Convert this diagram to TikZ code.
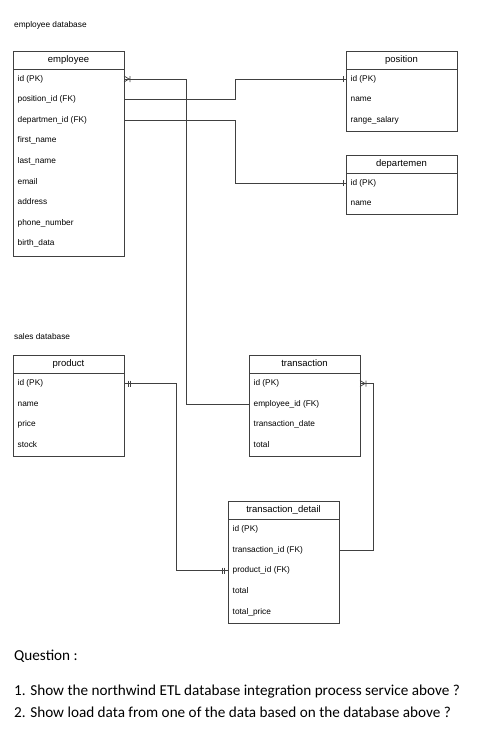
\documentclass[tikz,border=0pt]{standalone}
\usepackage{fontspec}
\setmainfont{Liberation Sans}
\newfontfamily\qfont{Carlito}
\usetikzlibrary{positioning}

\tikzset{
  head/.style={draw=black!75, line width=0.8pt, outer sep=0pt, inner sep=0pt,
    minimum width=111pt, minimum height=18pt, text height=6.8pt, text depth=2pt,
    font=\fontsize{9.5}{11}\selectfont},
  body/.style={draw=black!75, line width=0.8pt, outer sep=0pt, inner sep=0pt,
    minimum width=111pt, minimum height=#1},
  field/.style={anchor=west, inner sep=0pt, text height=6pt, text depth=1.7pt,
    font=\fontsize{8.3}{10}\selectfont},
  question/.style={anchor=west, inner sep=0pt, font=\qfont\fontsize{15.2}{18}\selectfont},
  link/.style={draw=black!75, line width=0.7pt},
  crow/.pic={\draw[link] (0,-3) -- (5,0) -- (0,3) (6,-3) -- (6,3);},
  bar/.pic={\draw[link] (3,-3) -- (3,3);},
  twobar/.pic={\draw[link] (4,-3) -- (4,3) (6,-3) -- (6,3);}
}

\begin{document}
\begin{tikzpicture}[x=1pt, y=-1pt]
        \useasboundingbox (0,0) rectangle (481,742);

        % Employee database
        \node[field] (empdb) at (14,25) {employee database};

        % Table employee
        \node[head] (emp) at (68.5,60) {employee};
        \node[body=187pt, below=0pt of emp] (empbody) {};
        \foreach \f [count=\i] in {id (PK), position\_id (FK), departmen\_id (FK),
            first\_name, last\_name, email, address, phone\_number, birth\_data}
          \node[field] (emp-\i) at ([shift={(4.5,{10+(\i-1)*20.6})}]empbody.north west) {\f};

        % Table position
        \node[head] (pos) at (401.5,60) {position};
        \node[body=62pt, below=0pt of pos] (posbody) {};
        \foreach \f [count=\i] in {id (PK), name, range\_salary}
          \node[field] (pos-\i) at ([shift={(4.5,{10+(\i-1)*20.6})}]posbody.north west) {\f};

        % Table departemen
        \node[head] (dep) at (401.5,164) {departemen};
        \node[body=41pt, below=0pt of dep] (depbody) {};
        \foreach \f [count=\i] in {id (PK), name}
          \node[field] (dep-\i) at ([shift={(4.5,{10+(\i-1)*20.6})}]depbody.north west) {\f};

        % Sales database
        \node[field] (salesdb) at (14,337) {sales database};

        % Table product
        \node[head] (prd) at (68.5,364.5) {product};
        \node[body=83pt, below=0pt of prd] (prdbody) {};
        \foreach \f [count=\i] in {id (PK), name, price, stock}
          \node[field] (prd-\i) at ([shift={(4.5,{10+(\i-1)*20.6})}]prdbody.north west) {\f};

        % Table transaction
        \node[head] (tr) at (304.5,364.5) {transaction};
        \node[body=83pt, below=0pt of tr] (trbody) {};
        \foreach \f [count=\i] in {id (PK), employee\_id (FK), transaction\_date, total}
          \node[field] (tr-\i) at ([shift={(4.5,{10+(\i-1)*20.6})}]trbody.north west) {\f};

        % Table transaction_detail
        \node[head] (det) at (283.5,510.5) {transaction\_detail};
        \node[body=104pt, below=0pt of det] (detbody) {};
        \foreach \f [count=\i] in {id (PK), transaction\_id (FK), product\_id (FK), total, total\_price}
          \node[field] (det-\i) at ([shift={(4.5,{10+(\i-1)*20.6})}]detbody.north west) {\f};

        % Relations
        \draw[link] (emp-1 -| empbody.east) -- ++(62,0) |- (tr-2 -| trbody.west);
        \pic at (emp-1 -| empbody.east) {crow};
        \draw[link] (emp-2 -| empbody.east) -- ++(111,0) |- (pos-1 -| posbody.west);
        \pic[xscale=-1] at (pos-1 -| posbody.west) {bar};
        \draw[link] (emp-3 -| empbody.east) -- ++(111,0) |- (dep-1 -| depbody.west);
        \pic[xscale=-1] at (dep-1 -| depbody.west) {bar};
        \draw[link] (prd-1 -| prdbody.east) -- ++(52,0) |- (det-3 -| detbody.west);
        \pic at (prd-1 -| prdbody.east) {twobar};
        \pic[xscale=-1] at (det-3 -| detbody.west) {twobar};
        \draw[link] (tr-1 -| trbody.east) -- ++(13,0) |- (det-2 -| detbody.east);
        \pic at (tr-1 -| trbody.east) {crow};

        % Question
        \node[question] (q) at (14,656) {Question :};
        \node[question] (q1) at (14,692) {1. Show the northwind ETL database integration process service above ?};
        \node[question] (q2) at (14,712) {2. Show load data from one of the data based on the database above ?};
\end{tikzpicture}
\end{document}
